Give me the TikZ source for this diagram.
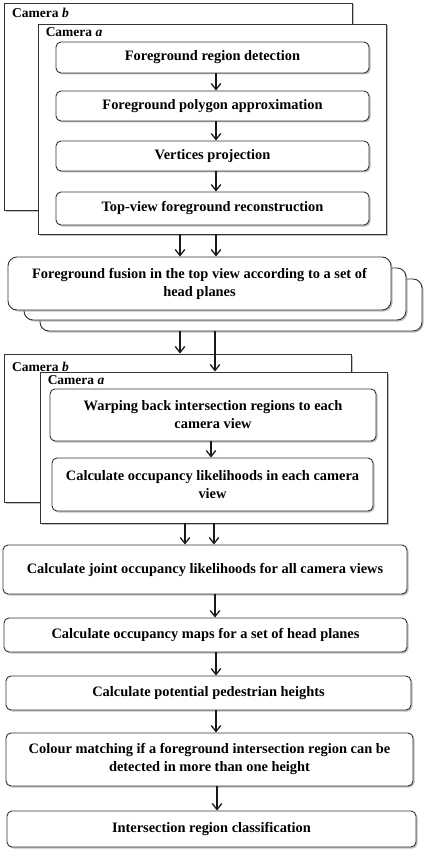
\documentclass[tikz,border=0pt]{standalone}
\usepackage{fontspec}
\setmainfont{Liberation Serif}
\usetikzlibrary{arrows.meta,shadows}
\begin{document}
\begin{tikzpicture}[x=1pt,y=-1pt,
  shad/.style={drop shadow={shadow xshift=1.5pt, shadow yshift=-1.5pt, fill=black!45, opacity=0.55}},
  box/.style={draw=black!80, line width=0.9pt, rounded corners=5pt, fill=white, inner sep=0pt, align=center,
    font=\bfseries\fontsize{14.4}{18}\selectfont, shad},
  cam/.style={draw=black!80, line width=0.9pt, fill=white, inner sep=0pt, shad},
  camlabel/.style={anchor=west, inner sep=0pt, font=\bfseries\fontsize{13.5}{15}\selectfont},
  arr/.style={-{Straight Barb[length=6pt,width=9.5pt,line width=1.3pt]}, line width=1.3pt, draw=black!90}
]
\useasboundingbox[fill=white] (0,0) rectangle (427,853);

% ---------- upper camera group ----------
\node[cam, minimum width=348pt, minimum height=207pt] (camb1) at (178,106.5) {};
\node[camlabel] (lb1) at ([xshift=8.5pt,yshift=-10pt]camb1.north west) {Camera \textit{b}};
\node[cam, minimum width=348pt, minimum height=210pt] (cama1) at (212,129) {};
\node[camlabel] (la1) at ([xshift=8pt,yshift=-9pt]cama1.north west) {Camera \textit{a}};

\node[box, minimum width=313pt, minimum height=31pt] (b1) at (212.5,57.5) {Foreground region detection};
\node[box, minimum width=313pt, minimum height=30pt] (b2) at (212.5,106) {Foreground polygon approximation};
\node[box, minimum width=313pt, minimum height=30pt] (b3) at (212.5,156) {Vertices projection};
\node[box, minimum width=313pt, minimum height=33pt] (b4) at (212.5,208.5) {Top-view foreground reconstruction};

\draw[arr] ([xshift=3.5pt]b1.south) -- ([xshift=3.5pt]b2.north);
\draw[arr] ([xshift=3.5pt]b2.south) -- ([xshift=3.5pt]b3.north);
\draw[arr] ([xshift=3.5pt]b3.south) -- ([xshift=3.5pt]b4.north);

% ---------- fusion stack ----------
\node[box, rounded corners=9pt, minimum width=382pt, minimum height=52pt] (fus3) at (231,305) {};
\node[box, rounded corners=9pt, minimum width=382pt, minimum height=52pt] (fus2) at (215,294) {};
\node[box, rounded corners=9pt, minimum width=383pt, minimum height=53pt] (fus) at (199.5,283.5)
  {Foreground fusion in the top view according to a set of\\head planes};

\draw[arr] ([xshift=-32pt]cama1.south) -- ([xshift=-19.5pt]fus.north);
\draw[arr] ([xshift=4pt]cama1.south) -- ([xshift=16.5pt]fus.north);

% ---------- lower camera group ----------
\node[cam, minimum width=347pt, minimum height=148pt] (camb2) at (177.5,428) {};
\node[camlabel] (lb2) at ([xshift=8.5pt,yshift=-13pt]camb2.north west) {Camera \textit{b}};
\node[cam, minimum width=347pt, minimum height=151pt] (cama2) at (213.5,447.5) {};
\node[camlabel] (la2) at ([xshift=8pt,yshift=-9pt]cama2.north west) {Camera \textit{a}};

\node[box, minimum width=326pt, minimum height=52pt] (w1) at (213,415)
  {Warping back intersection regions to each\\camera view};
\node[box, minimum width=321pt, minimum height=53pt] (w2) at (212.5,484.5)
  {Calculate occupancy likelihoods in each camera\\view};
\draw[arr] ([xshift=-2pt]w1.south) -- ([xshift=-1.5pt]w2.north);

\draw[arr] ([xshift=-51pt]fus3.south) -- ([xshift=2.5pt]camb2.north);
\draw[arr] ([xshift=-16pt]fus3.south) -- ([xshift=1.5pt]cama2.north);

% ---------- bottom chain ----------
\node[box, minimum width=404pt, minimum height=49pt] (j) at (205,569.5)
  {Calculate joint occupancy likelihoods for all camera views};
\node[box, minimum width=403pt, minimum height=34pt] (o) at (205.5,635)
  {Calculate occupancy maps for a set of head planes};
\node[box, minimum width=405pt, minimum height=34pt] (p) at (208.5,693)
  {Calculate potential pedestrian heights};
\node[box, minimum width=407pt, minimum height=53pt] (c) at (209.5,759.5)
  {Colour matching if a foreground intersection region can be\\detected in more than one height};
\node[box, minimum width=409pt, minimum height=36pt] (ic) at (211.5,829)
  {Intersection region classification};

\draw[arr] ([xshift=-28.5pt]cama2.south) -- ([xshift=-20pt]j.north);
\draw[arr] ([xshift=0.5pt]cama2.south) -- ([xshift=9pt]j.north);
\draw[arr] ([xshift=10pt]j.south) -- ([xshift=9.5pt]o.north);
\draw[arr] ([xshift=10.5pt]o.south) -- ([xshift=7.5pt]p.north);
\draw[arr] ([xshift=7.5pt]p.south) -- ([xshift=6.5pt]c.north);
\draw[arr] ([xshift=7.5pt]c.south) -- ([xshift=5.5pt]ic.north);
\end{tikzpicture}
\end{document}
